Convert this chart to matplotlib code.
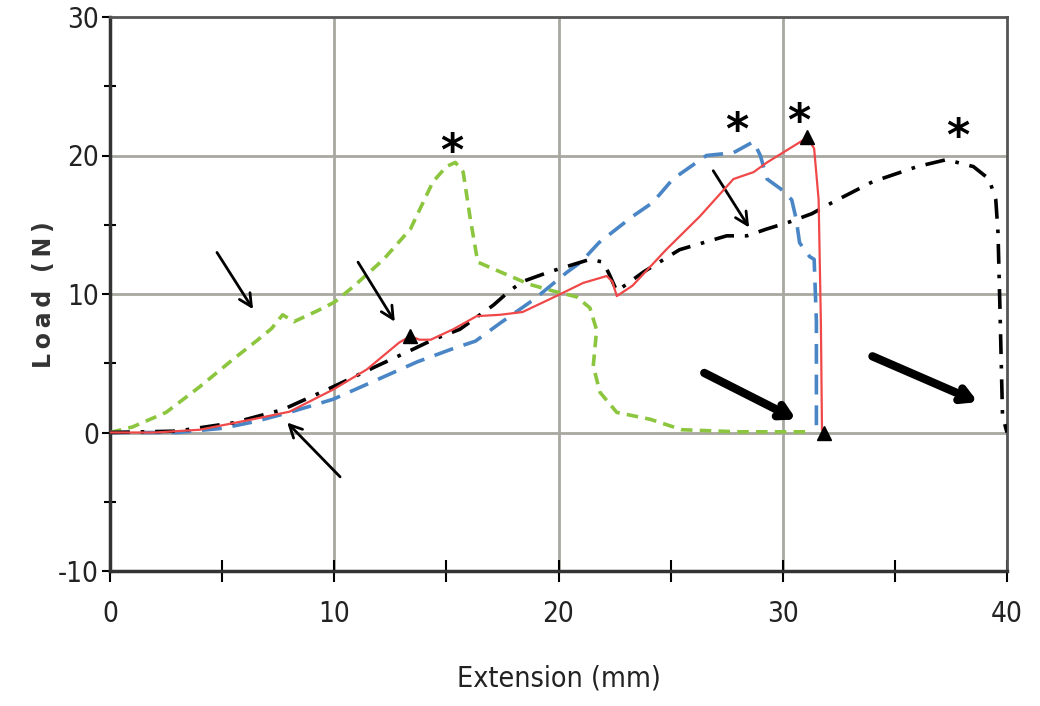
import matplotlib
matplotlib.use("Agg")
import matplotlib.pyplot as plt
from matplotlib.ticker import MultipleLocator

plt.rcParams["axes.unicode_minus"] = False

# ── data ─────────────────────────────────────────────────────────────────────
green_x = [0, 1.0, 2.5, 4.0, 5.5, 6.6, 7.2, 7.7, 8.2, 9.2, 10.0, 10.9, 12.2, 13.4,
           14.4, 15.0, 15.4, 15.75, 16.05, 16.4, 17.4, 18.7, 19.8, 20.8, 21.4,
           21.7, 21.55, 21.85, 22.6, 24.1, 25.5, 28.0, 31.1]
green_y = [0, 0.4, 1.45, 3.3, 5.3, 6.7, 7.5, 8.5, 8.0, 8.75, 9.4, 10.6, 12.5, 14.7,
           18.1, 19.2, 19.5, 18.8, 15.6, 12.3, 11.6, 10.7, 10.2, 9.8, 9.0,
           7.4, 4.8, 2.9, 1.45, 0.95, 0.2, 0.05, 0.05]

red_x = [0, 2, 4, 6.2, 8.0, 9.95, 11.45, 12.9, 13.4, 13.8, 14.3, 15.3, 16.35, 17.4,
         18.4, 19.9, 21.1, 22.15, 22.4, 22.6, 23.3, 24.8, 26.3, 27.8, 28.7, 29.3,
         31.1, 31.4, 31.6, 31.7, 31.75]
red_y = [0, 0, 0.2, 0.9, 1.5, 3.1, 4.55, 6.5, 6.95, 6.7, 6.7, 7.45, 8.4, 8.5,
         8.7, 9.85, 10.8, 11.3, 10.9, 9.85, 10.6, 13.2, 15.6, 18.3, 18.8, 19.5,
         21.3, 20.5, 16.8, 8.0, 0.2]
red_marks_x = [13.4, 31.1, 31.85]
red_marks_y = [7.0, 21.3, 0.0]

blue_x = [0, 3, 5, 6.5, 8.0, 9.95, 11.9, 13.7, 15.2, 16.3, 17.4, 18.9, 20.4, 21.0,
          21.8, 23.3, 24.2, 25.1, 26.6, 27.8, 28.7, 29.0, 29.3, 29.9, 30.4, 30.6,
          30.75, 31.2, 31.4, 31.5, 31.5]
blue_y = [0, 0, 0.3, 0.8, 1.45, 2.4, 3.8, 5.1, 6.0, 6.6, 7.9, 9.6, 11.6, 12.3,
          13.7, 15.6, 16.6, 18.3, 20.0, 20.2, 21.0, 20.0, 18.3, 17.6, 16.8, 15.4,
          13.7, 12.7, 12.5, 8.0, 0]

black_x = [0, 3, 5.5, 7.7, 9.95, 11.9, 13.5, 14.4, 15.6, 17.1, 17.8, 18.4, 19.6,
           21.4, 22.0, 22.3, 22.6, 23.8, 25.4, 27.5, 28.4, 29.3, 30.3, 31.3, 32.2,
           34.0, 36.0, 37.3, 38.5, 39.2, 39.5, 39.6, 39.7, 39.8, 40.0]
black_y = [0, 0.1, 0.7, 1.65, 3.3, 4.8, 6.0, 6.7, 7.45, 9.2, 10.2, 10.9, 11.6,
           12.5, 12.3, 11.3, 10.2, 11.6, 13.2, 14.2, 14.2, 14.7, 15.2, 15.8, 16.6,
           18.1, 19.2, 19.7, 19.2, 18.3, 16.8, 14.4, 8.0, 1.2, 0]

# peak markers (asterisks) and annotation arrows (tail -> head)
star_x = [15.25, 27.95, 30.7, 37.8]
star_y = [20.2, 21.7, 22.4, 21.3]
thin_arrows = [((4.77, 13.0), (6.38, 8.9)),
               ((11.06, 12.3), (12.7, 8.0)),
               ((10.26, -3.2), (7.9, 0.72)),
               ((26.9, 18.9), (28.5, 14.8))]
thick_arrows = [((26.5, 4.3), (30.6, 0.94)),
                ((34.0, 5.5), (38.7, 2.2))]

# ── figure ───────────────────────────────────────────────────────────────────
fig = plt.figure(figsize=(10.4, 7.06), dpi=100)
ax = fig.add_axes([110 / 1040, 1 - 571 / 706, 897 / 1040, 554 / 706])

ax.plot(green_x, green_y, color="#8cc63f", lw=2.6, ls=(0, (3.2, 2.0)), zorder=3)
ax.plot(blue_x, blue_y, color="#4a86c6", lw=2.6, ls=(0, (5.5, 3.0)), zorder=3)
ax.plot(red_x, red_y, color="#f04848", lw=1.6, zorder=4)
ax.plot(black_x, black_y, color="black", lw=2.6,
        ls=(0, (5.5, 3.0, 1.0, 3.0)), zorder=3)
ax.plot(red_marks_x, red_marks_y, ls="none", marker="^", ms=10,
        color="black", zorder=5)

for sx, sy in zip(star_x, star_y):
    ax.text(sx, sy, "*", fontsize=32, fontweight="bold", ha="center",
            va="center", family="DejaVu Sans")

for (tx, ty), (hx, hy) in thin_arrows:
    ax.annotate("", xy=(hx, hy), xytext=(tx, ty),
                arrowprops=dict(arrowstyle="->,head_length=0.9,head_width=0.45",
                                lw=2, color="black", shrinkA=0, shrinkB=0))
for (tx, ty), (hx, hy) in thick_arrows:
    ax.annotate("", xy=(hx, hy), xytext=(tx, ty),
                arrowprops=dict(arrowstyle="->,head_length=0.8,head_width=0.45",
                                lw=6, color="black", shrinkA=0, shrinkB=0))

ax.set_xlim(0, 40)
ax.set_ylim(-10, 30)
ax.xaxis.set_major_locator(MultipleLocator(10))
ax.xaxis.set_minor_locator(MultipleLocator(5))
ax.yaxis.set_major_locator(MultipleLocator(10))
ax.yaxis.set_minor_locator(MultipleLocator(5))

for v in [10, 20, 30]:
    ax.axvline(v, color="#a8a8a0", lw=2, zorder=1)
for v in [0, 10, 20]:
    ax.axhline(v, color="#a8a8a0", lw=2, zorder=1)

ax.tick_params(axis="x", which="both", direction="inout", length=16, width=1.5,
               pad=13, labelsize=20)
ax.tick_params(axis="y", which="major", direction="out", length=6, width=1.5,
               pad=2, labelsize=20)
ax.tick_params(axis="y", which="minor", direction="inout", length=8, width=1.5)
for lab in ax.get_xticklabels() + ax.get_yticklabels():
    lab.set_fontstretch("condensed")
    lab.set_color("#222222")

for side in ["left", "bottom"]:
    ax.spines[side].set_linewidth(2.5)
    ax.spines[side].set_color("#333333")
for side in ["top", "right"]:
    ax.spines[side].set_linewidth(2)
    ax.spines[side].set_color("#555555")

ax.set_xlabel("Extension (mm)", fontsize=20.5, fontstretch="condensed",
              color="#222222", labelpad=26)
fig.text(44 / 1040, 1 - 295 / 706, "L\u2009o\u2009a\u2009d\u2009 \u2009(\u2009N\u2009)",
         rotation=90, fontsize=17, fontweight="bold", ha="center", va="center",
         color="#333333")

fig.savefig("out.png", dpi=100)
